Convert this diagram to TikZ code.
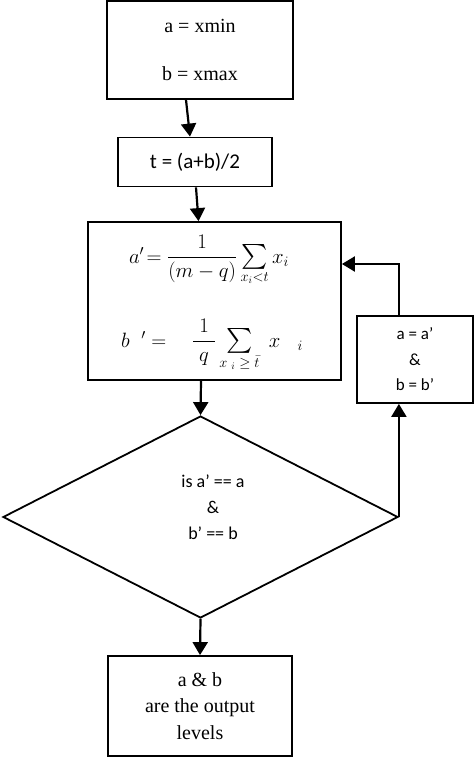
\documentclass[tikz,border=0pt]{standalone}
\usepackage{amsmath}
\usepackage{fontspec}
\setmainfont{Liberation Serif}
\newfontfamily\calibri{Carlito}
\usetikzlibrary{positioning,arrows.meta,shapes.geometric}
\newcommand{\wsum}{\mathop{\text{\fontsize{25}{25}\selectfont$\sum$}}\limits}

\begin{document}
\begin{tikzpicture}[x=1pt,y=-1pt,
		box/.style={draw, line width=1.8pt, inner sep=0pt, align=center},
		arrow/.style={-{Triangle[length=13pt,width=15pt]}, line width=2.2pt},
		serif/.style={font=\fontsize{20}{26.5}\selectfont},
		sans/.style={font=\calibri\fontsize{17}{25.5}\selectfont},
		formula/.style={anchor=base, inner sep=0pt, font=\fontsize{20}{24}\selectfont}
		]
		\useasboundingbox (0,0) rectangle (474,757);
		
		\node[box, serif, minimum width=186pt, minimum height=98pt] (init) at (200,50) {a = xmin\\[21pt]b = xmax};
		\node[box, font=\calibri\fontsize{21}{24}\selectfont, minimum width=154pt, minimum height=49pt] (mid) at (195,162) {t = (a+b)/2};
		
		\node[box, minimum width=253pt, minimum height=158pt] (update) at (214.5,301) {};
		\node[formula] (anew) at (209,263) {$a'\!= \dfrac{1}{(m-q)}\wsum_{x_i<t} x_i$};
		\node[formula] (bnew) at (212,347) {$b\;\;' = \quad\dfrac{\,1\,}{\;q\;}\wsum_{x\;{}_{i}\;\geq\;\bar{t}}\; x\;\;\;{}_{i}$};
		
		\node[draw, diamond, line width=1.8pt, inner sep=0pt, minimum width=395pt, minimum height=202pt] (check) at (200.5,517) {};
		\node[sans, font=\calibri\fontsize{18}{26}\selectfont, align=center] (cond) at (213,507) {is a’ == a\\\&\\b’ == b};
		
		\node[box, sans, minimum width=116pt, minimum height=87pt] (swap) at (415,359.5) {a = a’\\\&\\b = b’};
		
		\node[box, serif, minimum width=184pt, minimum height=100pt] (out) at (200,706) {a \& b\\are the output\\levels};
		
		\draw[arrow] ([xshift=-14pt]init.south) -- ([xshift=-5pt]mid.north);
		\draw[arrow] ([xshift=1pt]mid.south) -- ([xshift=-16pt]update.north);
		\draw[arrow] ([xshift=-13.5pt]update.south) -- (check.north);
		\draw[arrow] (check.south) -- (out.north);
		
		% loop back while not converged
		\draw[arrow] (check.east) -- (check.east |- swap.south);
		\draw[arrow] (check.east |- swap.north) |- ([yshift=37pt]update.east);
		
	\end{tikzpicture}
\end{document}
